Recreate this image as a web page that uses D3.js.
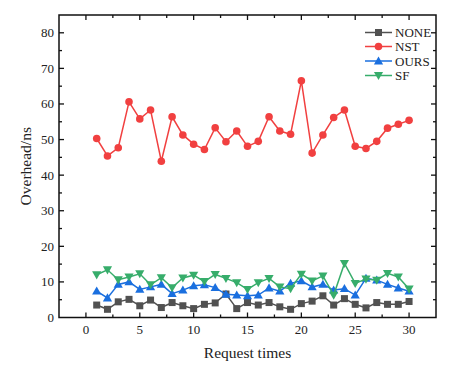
<!DOCTYPE html>
<html><head><meta charset="utf-8">
<script src="https://cdn.jsdelivr.net/npm/d3@7/dist/d3.min.js"></script>
<style>body{margin:0;background:#fff}svg{display:block}text{font-family:"Liberation Serif","Times New Roman",serif;fill:#222}</style>
</head><body><svg id="c" width="474" height="372"></svg>
<script>
const requestTimes = d3.range(1, 31);
const seriesNames = ["NONE", "NST", "OURS", "SF"];
const noneVals = [3.5,2.3,4.4,5.1,3.3,4.9,2.8,4.2,3.3,2.5,3.7,4.1,6.6,2.5,4.2,3.5,4.2,3.0,2.3,3.9,4.6,6.1,3.5,5.3,3.7,2.7,4.2,3.7,3.7,4.5];
const nstVals = [50.3,45.4,47.7,60.6,55.8,58.3,43.9,56.4,51.3,48.7,47.2,53.3,49.4,52.4,48.1,49.5,56.4,52.4,51.5,66.5,46.2,51.3,56.2,58.3,48.1,47.5,49.5,53.2,54.3,55.4];
const oursVals = [7.4,5.5,9.3,10.0,7.9,8.6,9.3,6.7,7.7,8.9,9.2,8.4,6.5,6.3,6.1,6.3,8.3,7.4,9.6,10.3,8.6,9.3,7.7,8.1,6.3,11.0,10.5,9.3,8.3,7.4];
const sfVals = [12.0,13.4,10.6,11.4,12.3,9.2,11.2,8.4,11.1,11.9,10.1,12.1,11.0,9.8,7.9,9.8,11.0,8.6,8.1,12.2,10.3,11.7,6.3,15.2,9.6,10.8,10.5,12.4,11.4,8.0];
const xTicks = [0,5,10,15,20,25,30];
const yTicks = [0,10,20,30,40,50,60,70,80];
const colors = ["#515151","#F14040","#1A6FDF","#37AD6B"];
const symbols = ["square","circle","triUp","triDown"];
const allVals = [noneVals, nstVals, oursVals, sfVals];

const svg = d3.select("#c");
const L = 59, R = 436, T = 15, B = 317.5;
const x = d3.scaleLinear().domain([-2.5, 32.5]).range([L, R]);
const y = d3.scaleLinear().domain([0, 85]).range([B, T]);

// frame
svg.append("rect").attr("x", L).attr("y", T).attr("width", R - L).attr("height", B - T)
  .attr("fill", "none").attr("stroke", "#111").attr("stroke-width", 1.5);

const xMinor = d3.range(-2.5, 32.6, 2.5);
const yMinor = d3.range(0, 85.1, 5);
const tk = svg.append("g").attr("stroke", "#111").attr("stroke-width", 1.3);
xMinor.forEach(v => {
  const len = (Math.abs(v % 5) < 1e-6) ? 5 : 3;
  if (v <= -2.5 || v >= 32.5) return;
  tk.append("line").attr("x1", x(v)).attr("x2", x(v)).attr("y1", B).attr("y2", B - len);
  tk.append("line").attr("x1", x(v)).attr("x2", x(v)).attr("y1", T).attr("y2", T + len);
});
yMinor.forEach(v => {
  const len = (Math.abs(v % 10) < 1e-6) ? 5 : 3;
  if (v <= 0 || v >= 85) return;
  tk.append("line").attr("y1", y(v)).attr("y2", y(v)).attr("x1", L).attr("x2", L + len);
  tk.append("line").attr("y1", y(v)).attr("y2", y(v)).attr("x1", R).attr("x2", R - len);
});

// tick labels
svg.append("g").selectAll("text").data(xTicks).join("text")
  .attr("x", d => x(d)).attr("y", 334).attr("text-anchor", "middle")
  .attr("font-size", 13).text(d => d);
svg.append("g").selectAll("text").data(yTicks).join("text")
  .attr("x", 54).attr("y", d => y(d) + 4.5).attr("text-anchor", "end")
  .attr("font-size", 13).text(d => d);

// axis titles
svg.append("text").attr("x", (L + R) / 2).attr("y", 358).attr("text-anchor", "middle")
  .attr("font-size", 15.5).text("Request times");
svg.append("text").attr("transform", `translate(31,${(T + B) / 2}) rotate(-90)`)
  .attr("text-anchor", "middle").attr("font-size", 15.5).text("Overhead/ns");

function marker(g, type, cx, cy, color) {
  if (type === "square") {
    g.append("rect").attr("x", cx - 3.5).attr("y", cy - 3.5).attr("width", 7).attr("height", 7).attr("fill", color);
  } else if (type === "circle") {
    g.append("circle").attr("cx", cx).attr("cy", cy).attr("r", 3.8).attr("fill", color);
  } else if (type === "triUp") {
    const s = 4.6;
    g.append("path").attr("d", `M${cx},${cy - s}L${cx + s},${cy + s * 0.75}L${cx - s},${cy + s * 0.75}Z`).attr("fill", color);
  } else {
    const s = 4.6;
    g.append("path").attr("d", `M${cx},${cy + s}L${cx + s},${cy - s * 0.75}L${cx - s},${cy - s * 0.75}Z`).attr("fill", color);
  }
}

const line = d3.line().x((d, i) => x(requestTimes[i])).y(d => y(d));
allVals.forEach((vals, k) => {
  const g = svg.append("g");
  g.append("path").attr("d", line(vals)).attr("fill", "none").attr("stroke", colors[k]).attr("stroke-width", 1.5);
  vals.forEach((v, i) => marker(g, symbols[k], x(requestTimes[i]), y(v), colors[k]));
});

// legend
const legY = [32.5, 46.5, 61, 75.5];
seriesNames.forEach((n, k) => {
  const g = svg.append("g");
  g.append("line").attr("x1", 365).attr("x2", 392).attr("y1", legY[k]).attr("y2", legY[k])
    .attr("stroke", colors[k]).attr("stroke-width", 1.5);
  marker(g, symbols[k], 378.5, legY[k], colors[k]);
  g.append("text").attr("x", 395).attr("y", legY[k] + 4.5).attr("font-size", 13).text(n);
});
</script></body></html>
